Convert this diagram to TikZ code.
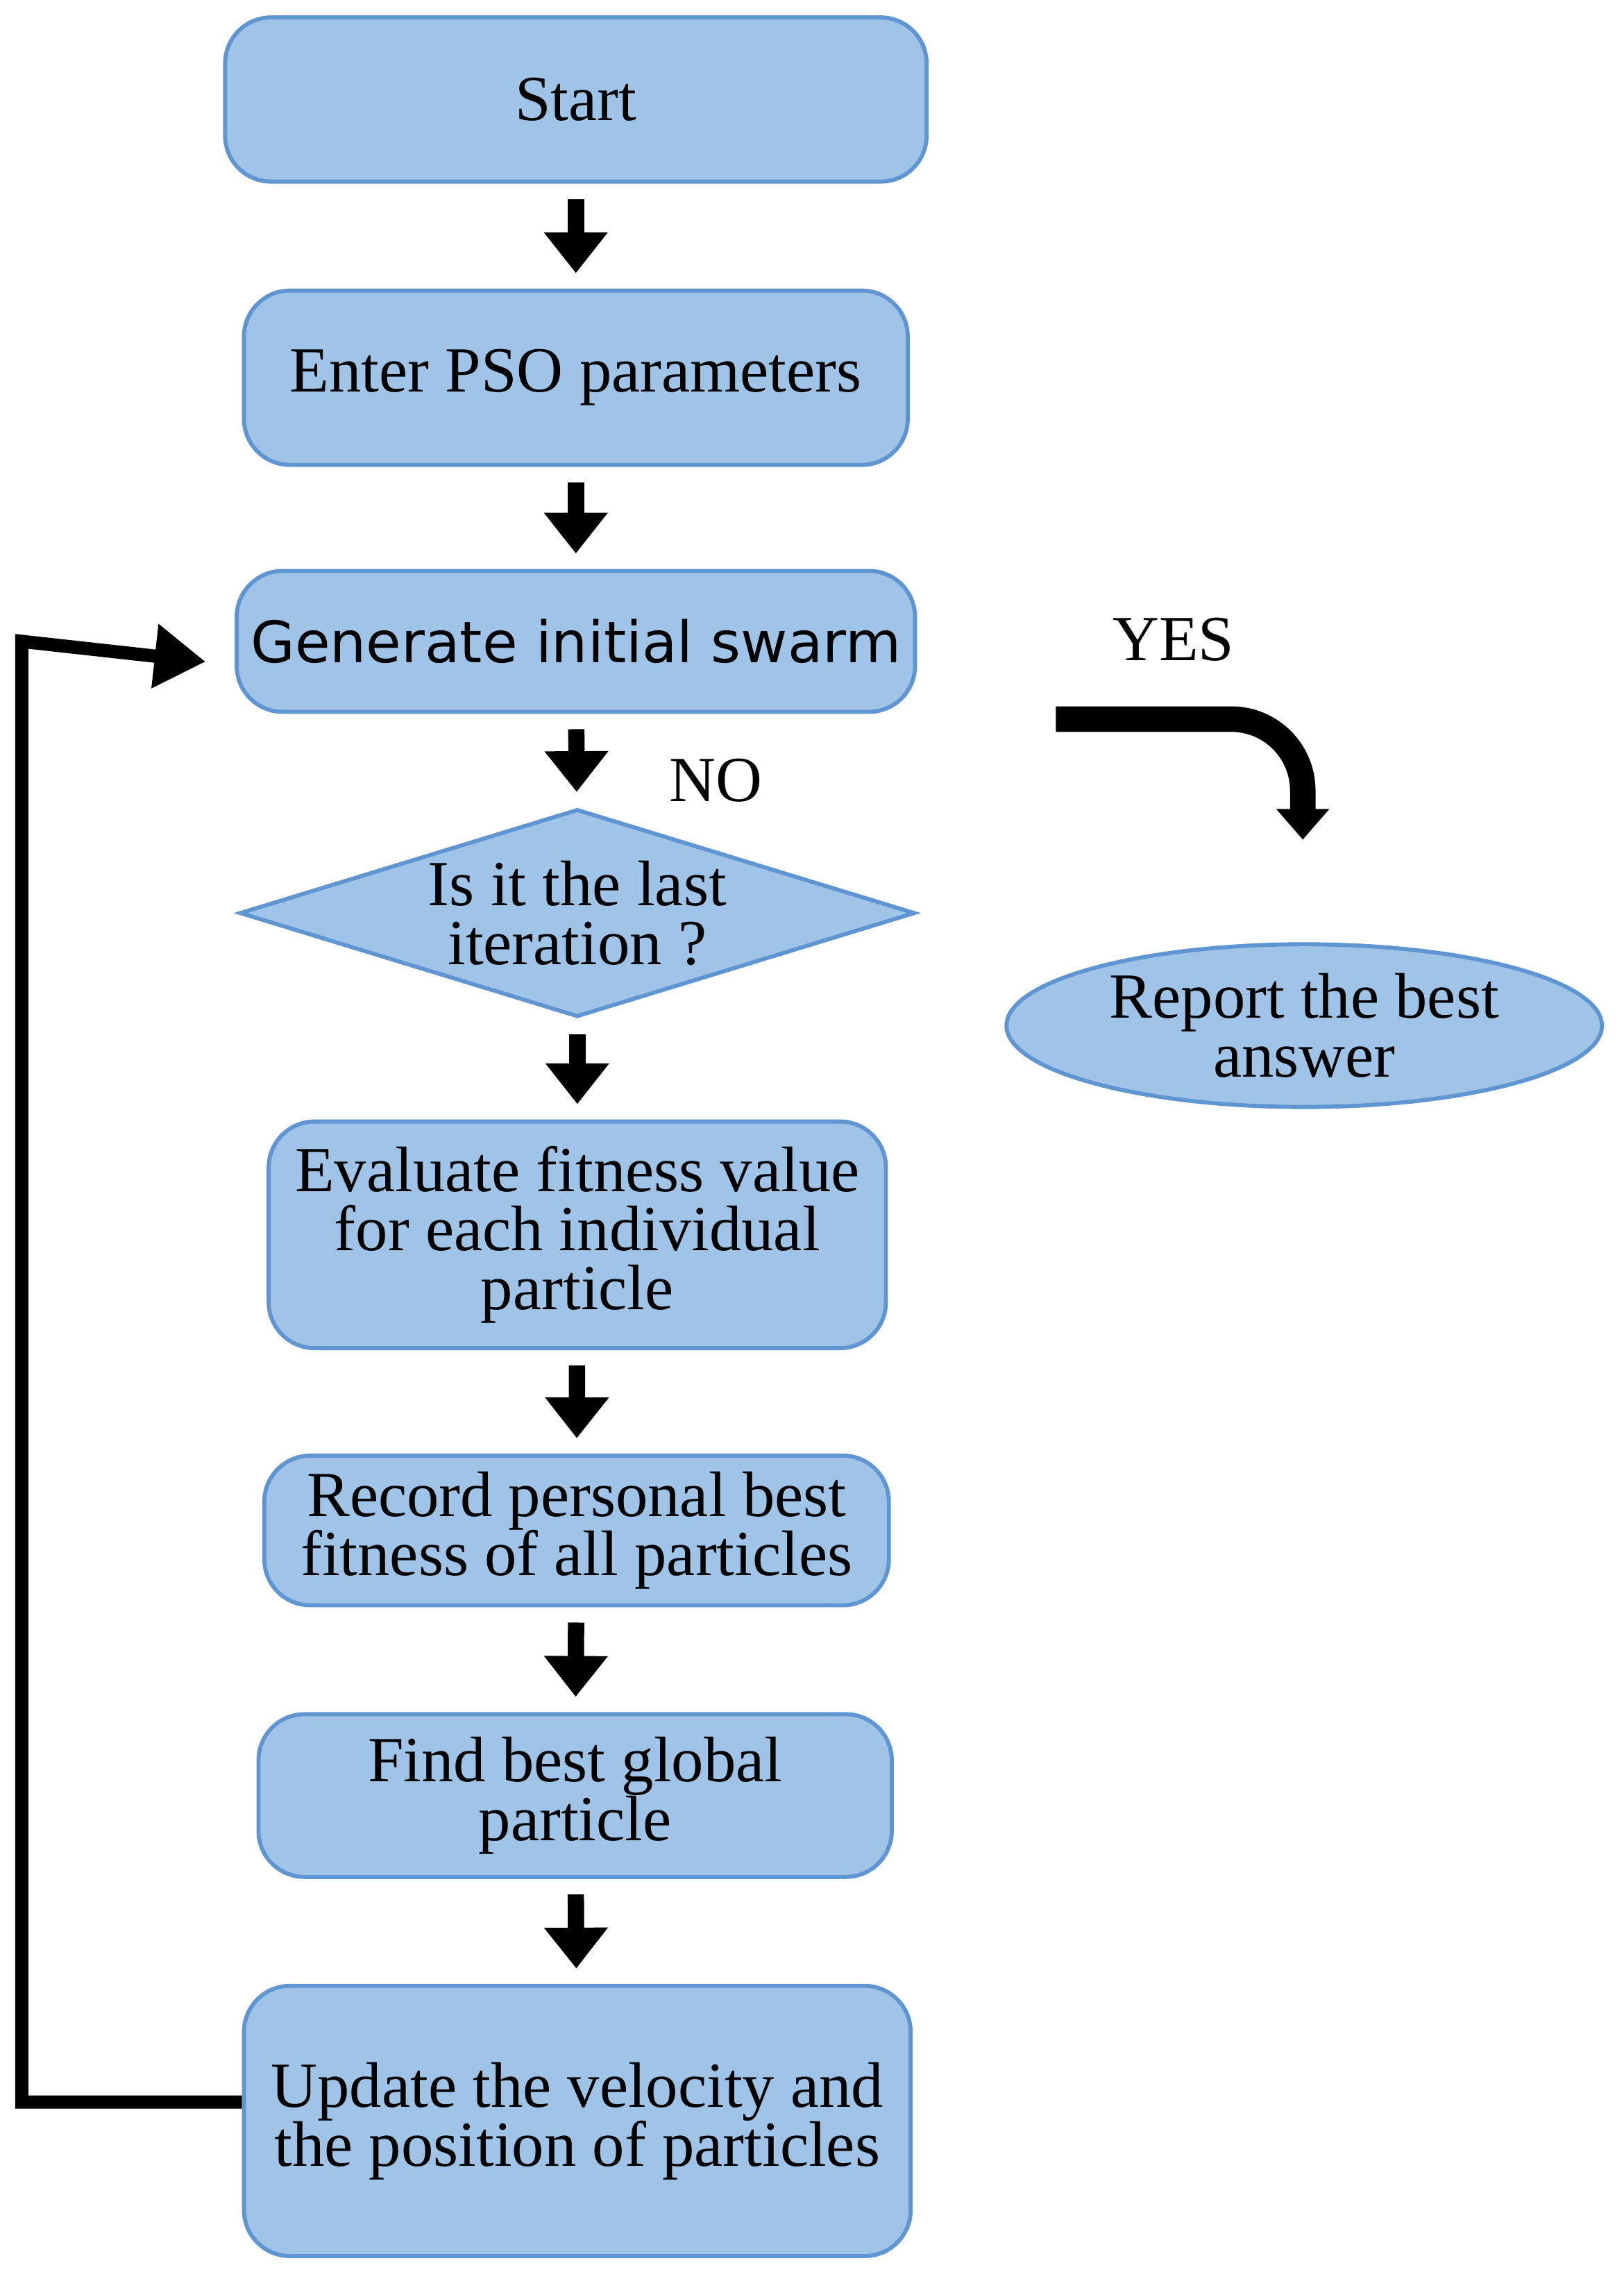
\documentclass[tikz,border=0pt]{standalone}
\usepackage{fontspec}
\setmainfont{Liberation Serif}
\newfontfamily\gensans{DejaVu Sans}
\usetikzlibrary{arrows.meta,shapes,positioning,calc}
\definecolor{boxfill}{RGB}{160,196,232}
\definecolor{boxline}{RGB}{95,150,210}
\tikzset{
  box/.style={rectangle,rounded corners=9pt,fill=boxfill,draw=boxline,thick,align=center,inner sep=1pt,font=\fontsize{12.6}{11.6}\selectfont},
  flowarrow/.style={line width=3.2pt,-{Triangle[width=12pt,length=8pt]},shorten <=3pt,shorten >=3pt},
  loopline/.style={line width=2.6pt,-{Triangle[width=12pt,length=10pt]}}
}
\begin{document}
\begin{tikzpicture}
\useasboundingbox (0,0) rectangle (11.18,-15.75);
\node[box,minimum width=4.83cm,minimum height=1.13cm] (start) at (3.965,-0.685) {Start};
\node[box,minimum width=4.57cm,minimum height=1.2cm] (enter) at (3.965,-2.6) {Enter PSO parameters};
\node[box,minimum width=4.67cm,minimum height=0.97cm,font=\gensans\fontsize{11.2}{13}\selectfont] (gen) at (3.965,-4.415) {Generate initial swarm};
\node[diamond,fill=boxfill,draw=boxline,thick,aspect=3.25,inner sep=0pt,minimum width=4.65cm,minimum height=1.43cm,align=center,font=\fontsize{12.6}{11.6}\selectfont] (last) at (3.975,-6.285) {Is it the last\\iteration ?};
\node[ellipse,fill=boxfill,draw=boxline,thick,minimum width=4.1cm,minimum height=1.12cm,inner sep=0pt,align=center,font=\fontsize{12.6}{11.6}\selectfont] (rep) at (8.98,-7.06) {Report the best\\answer};
\node[box,minimum width=4.25cm,minimum height=1.56cm] (eval) at (3.975,-8.5) {Evaluate fitness value\\for each individual\\particle};
\node[box,minimum width=4.3cm,minimum height=1.03cm] (rec) at (3.97,-10.535) {Record personal best\\fitness of all particles};
\node[box,minimum width=4.36cm,minimum height=1.12cm] (find) at (3.96,-12.36) {Find best global\\particle};
\node[box,minimum width=4.59cm,minimum height=1.86cm] (upd) at (3.975,-14.6) {Update the velocity and\\the position of particles};
% main chain
\draw[flowarrow] (start) -- (enter);
\draw[flowarrow] (enter) -- (gen);
\draw[flowarrow] (gen) -- (last);
\draw[flowarrow] (last) -- (eval);
\draw[flowarrow] (eval) -- (rec);
\draw[flowarrow] (rec) -- (find);
\draw[flowarrow] (find) -- (upd);
\node[font=\fontsize{12.6}{14}\selectfont] (no) at (4.93,-5.37) {NO};
% yes branch
\coordinate (yesa) at (7.27,-4.95);
\coordinate (yesb) at (8.97,-5.78);
\draw[line width=5pt,rounded corners=14pt,-{Triangle[width=10pt,length=6pt]}] (yesa) -| (yesb);
\node[font=\fontsize{12.6}{14}\selectfont] (yes) at (8.08,-4.4) {YES};
% feedback
\coordinate (lft) at (0.15,0);
\draw[loopline] ([yshift=0.13cm]upd.west) -- ++(-0.08,0) -| (lft |- gen.west) -- ([xshift=-0.2cm,yshift=-0.14cm]gen.west);
\end{tikzpicture}
\end{document}
